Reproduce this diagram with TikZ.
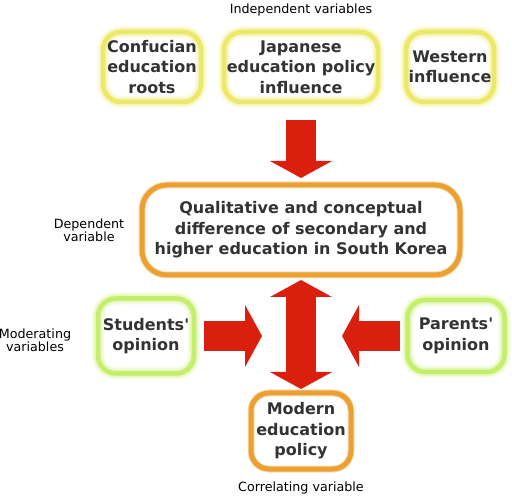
\documentclass[tikz,border=0pt]{standalone}
\usepackage{fontspec}
\setmainfont{DejaVu Sans}
\usepackage{xcolor}
\usetikzlibrary{arrows.meta, positioning}

\definecolor{glowyellow}{HTML}{EDE968}
\definecolor{glowgreen}{HTML}{C5EE6A}
\definecolor{boxorange}{HTML}{EDA032}
\definecolor{arrowred}{HTML}{DA1F0F}
\definecolor{textgray}{HTML}{333333}

\newcommand{\boxfont}{\fontsize{16}{20.5}\selectfont\bfseries}
\newcommand{\capfont}{\fontsize{12.7}{13}\selectfont}

\begin{document}
\begin{tikzpicture}[x=1pt, y=1pt, node distance=150pt,
    varbox/.style={rectangle, rounded corners=18pt, line width=4.5pt, fill=white, outer sep=0pt, inner sep=0pt, align=center, text=textgray, font=\boxfont, minimum height=70pt},
    glow/.style={postaction={draw=#1, line width=12pt, draw opacity=0.18}, postaction={draw=#1, line width=8pt, draw opacity=0.3}},
    indep/.style={varbox, draw=glowyellow, glow=glowyellow},
    moder/.style={varbox, draw=glowgreen, glow=glowgreen},
    corr/.style={varbox, line width=5pt, draw=boxorange, postaction={draw=boxorange, line width=7pt, draw opacity=0.35}},
    caption/.style={font=\capfont, align=center, text=black},
    bigarrow/.style={draw=arrowred, line width=30pt, -{Triangle[width=62pt, length=17pt, line width=0pt]}}]
    \useasboundingbox (0,0) rectangle (512,496);

    \node [corr, rounded corners=25pt, minimum width=318pt, minimum height=90pt] (main) at (301,266) {Qualitative and conceptual\\difference of secondary and\\higher education in South Korea};
    \node [indep, above of=main, node distance=163pt, minimum width=154pt] (japanese) {Japanese\\education policy\\influence};
    \node [indep, left of=japanese, node distance=149pt, minimum width=98pt] (confucian) {Confucian\\education\\roots};
    \node [indep, right of=japanese, node distance=149pt, minimum width=88pt] (western) {Western\\influence};
    \node [coordinate, below of=main, node distance=106pt] (hub) {};
    \node [moder, left of=hub, node distance=155pt, minimum width=96pt, minimum height=75pt] (students) {Students\textquotesingle\\opinion};
    \node [moder, right of=hub, node distance=155pt, minimum width=97pt, minimum height=72pt] (parents) {Parents\textquotesingle\\opinion};
    \node [corr, below of=hub, node distance=95pt, minimum width=100pt, minimum height=76pt] (modern) {Modern\\education\\policy};

    \node [caption, above of=japanese, node distance=57pt] (indeplabel) {Independent variables};
    \node [caption, left of=main, node distance=212pt] (deplabel) {Dependent\\variable};
    \node [caption, left of=students, node distance=111pt, yshift=-4pt] (modlabel) {Moderating\\variables};
    \node [caption, below of=modern, node distance=57pt] (corrlabel) {Correlating variable};

    \draw [bigarrow, shorten <=18pt, shorten >=7pt] (japanese) -- (main);
    \draw [bigarrow, shorten >=5pt] (hub) -- (main);
    \draw [bigarrow, shorten >=4pt] (hub) -- (modern);
    \draw [bigarrow, shorten <=10pt, shorten >=39pt] (students) -- (hub);
    \draw [bigarrow, shorten <=8pt, shorten >=41pt] (parents) -- (hub);
\end{tikzpicture}
\end{document}
